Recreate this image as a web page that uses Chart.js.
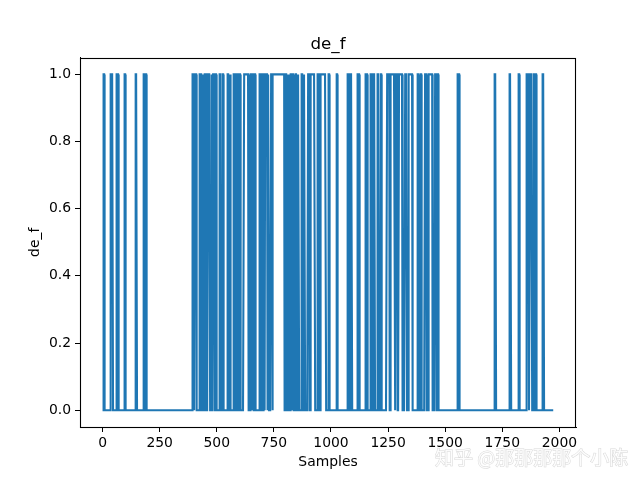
<!DOCTYPE html>
<html>
<head>
<meta charset="utf-8">
<script src="https://cdn.jsdelivr.net/npm/chart.js@4.4.1/dist/chart.umd.min.js"></script>
<style>
  html, body { margin: 0; padding: 0; background: #fff; }
  canvas { display: block; }
</style>
</head>
<body>
<canvas id="chart" width="640" height="480"></canvas>
<script>
// data
const chartTitle = 'de_f';
const xLabel = 'Samples';
const yLabel = 'de_f';
const sampleCount = 1975;
// runs of samples where de_f == 1, [first, last]
const highRuns = [
    [4, 9], [37, 45], [62, 71], [95, 99], [146, 150], [179, 183], [188, 192],
    [395, 400], [405, 410], [426, 432], [440, 442], [448, 455], [462, 470], [476, 478],
    [484, 490], [496, 498], [514, 518], [526, 530], [548, 552], [558, 560], [575, 582],
    [587, 592], [597, 602], [620, 640], [648, 650], [655, 660], [665, 668], [686, 692],
    [696, 700], [705, 708], [712, 720], [725, 728],
    [738, 742], [746, 796], [801, 804], [812, 815], [822, 826], [830, 834], [846, 849],
    [856, 860], [871, 875], [882, 886],
    [900, 906], [912, 930], [943, 948], [955, 978], [990, 994], [1025, 1029],
    [1074, 1080], [1086, 1092], [1116, 1124], [1150, 1158], [1172, 1180], [1186, 1192],
    [1204, 1210], [1216, 1222], [1246, 1256], [1262, 1280], [1285, 1292], [1298, 1314],
    [1325, 1332], [1340, 1358], [1378, 1382], [1392, 1397], [1412, 1418], [1426, 1445],
    [1456, 1460], [1466, 1470],
    [1556, 1562], [1716, 1722], [1782, 1788], [1820, 1826], [1858, 1866], [1872, 1880],
    [1888, 1892], [1896, 1900], [1926, 1932]
];
const xTicks = [0, 250, 500, 750, 1000, 1250, 1500, 1750, 2000];
const yTicks = [0.0, 0.2, 0.4, 0.6, 0.8, 1.0];
const watermark = '知乎 @那那那那个小陈';

// sample series built from the runs
const values = new Array(sampleCount).fill(0);
highRuns.forEach(([a, b]) => {
    for (let i = a; i <= b; i++) values[i] = 1;
});
const points = values.map((v, i) => ({ x: i, y: v }));

const FONT = '"DejaVu Sans", sans-serif';
const xMargin = (sampleCount - 1) * 0.05;

// matplotlib-ish frame, title, watermark
const extras = {
    id: 'extras',
    afterDraw(chart) {
        const { ctx, chartArea: a } = chart;
        ctx.save();
        ctx.strokeStyle = '#000';
        ctx.lineWidth = 1.1;
        ctx.strokeRect(Math.round(a.left) + 0.5, Math.round(a.top) + 0.5,
            Math.round(a.right - a.left) - 1, Math.round(a.bottom - a.top));
        ctx.fillStyle = '#000';
        ctx.font = '16.7px ' + FONT;
        ctx.textAlign = 'center';
        ctx.textBaseline = 'alphabetic';
        ctx.fillText(chartTitle, (a.left + a.right) / 2, 49);

        ctx.font = '19px "Noto Sans CJK SC", sans-serif';
        ctx.textAlign = 'left';
        ctx.textBaseline = 'middle';
        ctx.lineWidth = 1;
        ctx.strokeStyle = 'rgba(175,175,175,0.5)';
        ctx.strokeText(watermark, 435, 458);
        ctx.fillStyle = 'rgba(255,255,255,0.9)';
        ctx.fillText(watermark, 435, 458);
        ctx.restore();
    }
};

new Chart(document.getElementById('chart'), {
    type: 'line',
    data: {
        datasets: [{
            data: points,
            borderColor: '#1f77b4',
            borderWidth: 2.08,
            pointRadius: 0,
            tension: 0,
            fill: false
        }]
    },
    options: {
        responsive: false,
        animation: false,
        layout: { padding: { top: 57.6, right: 64, left: 0, bottom: 0 } },
        plugins: { legend: { display: false }, tooltip: { enabled: false } },
        scales: {
            x: {
                type: 'linear',
                min: -xMargin,
                max: sampleCount - 1 + xMargin,
                afterBuildTicks: s => { s.ticks = xTicks.map(v => ({ value: v })); },
                afterFit: s => { s.height = 53; },
                grid: { drawOnChartArea: false, tickLength: 5, color: '#000' },
                border: { color: '#000' },
                ticks: { color: '#000', padding: 3, maxRotation: 0, autoSkip: false,
                    font: { family: FONT, size: 13.9 }, callback: v => String(v) },
                title: { display: true, text: xLabel, color: '#000',
                    font: { family: FONT, size: 13.9 }, padding: { top: 0, bottom: 9 } }
            },
            y: {
                min: -0.05,
                max: 1.05,
                afterBuildTicks: s => { s.ticks = yTicks.map(v => ({ value: v })); },
                afterFit: s => { s.width = 80; },
                grid: { drawOnChartArea: false, tickLength: 5, color: '#000' },
                border: { color: '#000' },
                ticks: { color: '#000', padding: 4, autoSkip: false,
                    font: { family: FONT, size: 13.9 }, callback: v => v.toFixed(1) },
                title: { display: true, text: yLabel, color: '#000',
                    font: { family: FONT, size: 13.9 }, padding: { top: 27, bottom: 0 } }
            }
        }
    },
    plugins: [extras]
});
</script>
</body>
</html>
